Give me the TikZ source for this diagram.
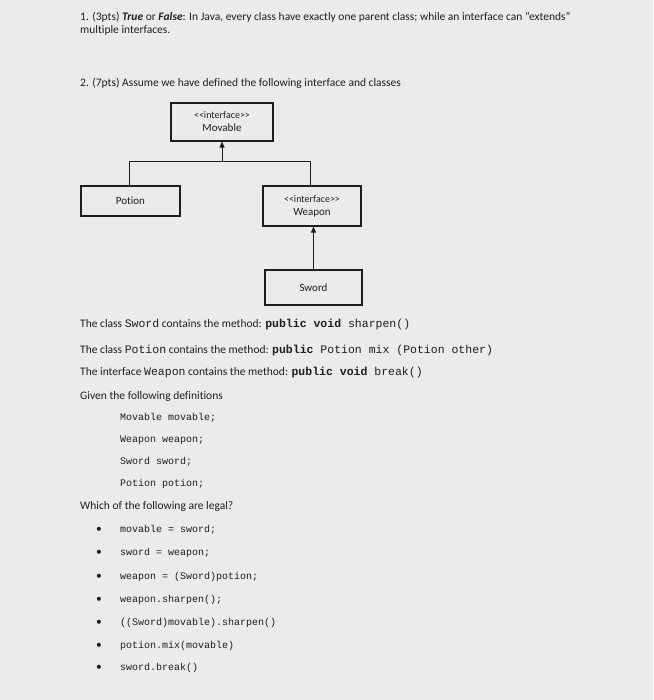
\documentclass[tikz,border=0pt]{standalone}
\usepackage{fontspec}
\setmainfont{Carlito}[Ligatures=NoCommon]
\setmonofont{Liberation Mono}
\usetikzlibrary{arrows.meta}
\definecolor{paper}{RGB}{236,235,233}
\definecolor{ink}{RGB}{30,30,30}
\newcommand{\stereo}{{\fontsize{10}{12}\selectfont\mbox{<}\mbox{<}interface\mbox{>}\mbox{>}}}
\begin{document}
\begin{tikzpicture}[x=1pt,y=-1pt,
  umlbox/.style={draw=ink,line width=1.1pt,minimum width=98pt,inner sep=2pt,align=center,font=\fontsize{11}{13}\selectfont,text=ink},
  txt/.style={anchor=west,inner sep=0pt,font=\fontsize{11.5}{13}\selectfont,text=ink},
  code/.style={anchor=west,inner sep=0pt,font=\ttfamily\fontsize{10}{12}\selectfont,text=ink},
  inh/.style={draw=ink,line width=0.9pt,-{Triangle[length=6pt,width=5pt]}},
  ln/.style={draw=ink,line width=0.9pt}]
\fill[paper] (0,0) rectangle (653,700);
\useasboundingbox (0,0) rectangle (653,700);
\node[txt] (q1a) at (80,17) {1. (3pts) \textit{\textbf{True}} or \textit{\textbf{False}}: In Java, every class have exactly one parent class; while an interface can "extends"};
\node[txt] (q1b) at (80,30) {multiple interfaces.};
\node[txt] (q2) at (80,83) {2. (7pts) Assume we have defined the following interface and classes};
\node[umlbox,minimum width=102pt,minimum height=38pt] (mov) at (222,122) {\stereo\\Movable};
\node[umlbox,minimum width=99pt,minimum height=30pt] (pot) at (130.5,201) {Potion};
\node[umlbox,minimum width=98pt,minimum height=40pt] (wea) at (312,206) {\stereo\\Weapon};
\node[umlbox,minimum width=97pt,minimum height=35pt] (swo) at (313.5,287.5) {Sword};
\coordinate (jl) at (129,161);
\coordinate (jr) at (310,161);
\coordinate (jm) at (222,161);
\draw[ln] (pot.north -| jl) -- (jl) -- (jr) -- (wea.north -| jr);
\draw[inh] (jm) -- (mov.south);
\draw[inh] (swo.north) -- (wea.south -| swo.north);
\node[txt] (l1) at (80,325) {The class \texttt{Sword} contains the method: \texttt{\textbf{public void} sharpen()}};
\node[txt] (l2) at (80,351) {The class \texttt{Potion} contains the method: \texttt{\textbf{public} Potion mix (Potion other)}};
\node[txt] (l3) at (80,373) {The interface \texttt{Weapon} contains the method: \texttt{\textbf{public void} break()}};
\node[txt] (l4) at (80,396) {Given the following definitions};
\node[code] (d1) at (120,418) {Movable movable;};
\node[code] (d2) at (120,440) {Weapon weapon;};
\node[code] (d3) at (120,462) {Sword sword;};
\node[code] (d4) at (120,484) {Potion potion;};
\node[txt] (l5) at (80,506) {Which of the following are legal?};
\foreach \y/\t [count=\i] in {530/{movable = sword;},553/{sword = weapon;},577/{weapon = (Sword)potion;},600/{weapon.sharpen();},623/{((Sword)movable).sharpen()},646/{potion.mix(movable)},668/{sword.break()}}{
  \node[txt] (b\i) at (96,\y) {\textbullet};
  \node[code] (c\i) at (120,\y) {\t};
}
\end{tikzpicture}
\end{document}
